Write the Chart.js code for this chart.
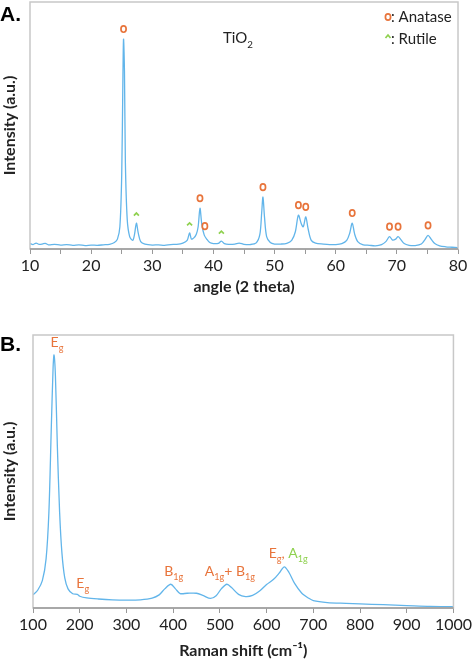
<!DOCTYPE html>
<html>
<head>
<meta charset="utf-8">
<script src="https://cdn.jsdelivr.net/npm/chart.js@4"></script>
<style>
  body { margin: 0; background: #fff; font-family: Lato, sans-serif; }
  .panel { position: absolute; left: 0; width: 474px; }
  .tag { position: absolute; left: 0; font: bold 21px Arial, sans-serif; z-index: 2; }
</style>
</head>
<body>
<div class="tag" style="top:2px">A.</div>
<div class="panel" style="top:0;height:300px"><canvas id="xrdCanvas"></canvas></div>
<div class="tag" style="top:332px">B.</div>
<div class="panel" style="top:330px;height:334px"><canvas id="ramanCanvas"></canvas></div>
<script>
// XRD pattern (angle 2 theta, intensity a.u.)
const xrdAngle = [10, 10.5, 11, 11.5, 12, 12.5, 13, 14, 15, 16, 17, 18, 19, 20, 21, 22, 23, 23.8, 24.3, 24.7, 25.0, 25.2, 25.3, 25.45, 25.6, 25.9, 26.3, 26.8, 27.1, 27.4, 27.7, 28.1, 28.8, 30, 31, 32, 33, 34, 35, 35.7, 36.1, 36.4, 36.8, 37.2, 37.5, 37.8, 38.1, 38.5, 38.9, 39.4, 40, 40.8, 41.3, 41.8, 42.5, 43.5, 44.2, 45, 46, 47, 47.6, 47.9, 48.1, 48.35, 48.7, 49.3, 50, 51, 52, 52.8, 53.4, 53.9, 54.4, 54.7, 55.1, 55.5, 56, 56.7, 58, 59, 60, 61, 61.8, 62.3, 62.7, 63.1, 63.6, 64.5, 65.5, 66.5, 67.5, 68.2, 68.8, 69.3, 69.8, 70.2, 70.6, 71.2, 72, 73, 74, 74.6, 75.1, 75.6, 76.2, 77, 78, 79, 80];
const xrdIntensity = [2.2, 1.8, 2.4, 1.9, 2.0, 2.3, 1.7, 1.9, 1.6, 1.8, 1.5, 1.7, 1.4, 1.6, 1.5, 1.7, 1.9, 2.6, 4, 9, 30, 70, 85, 72, 35, 12, 5, 3.5, 6, 10.5, 6.5, 3, 2, 1.6, 1.7, 1.5, 1.8, 1.9, 2.4, 3.5, 6.5, 4, 4.5, 6, 9, 16.5, 10, 5.6, 4, 2.6, 2.2, 2.3, 3.2, 2.2, 1.9, 2, 2.4, 1.9, 1.8, 2.5, 6, 15, 21, 13, 5, 2.6, 2, 2, 2.3, 3.5, 7, 13.7, 10, 9, 13, 8, 3.5, 2.4, 2, 1.8, 1.8, 2.2, 3.5, 6.5, 10.5, 6, 3, 1.7, 1.5, 1.3, 1.8, 3, 5, 3.6, 4, 5, 4, 2.2, 1.5, 1.4, 2, 3.8, 5.5, 4, 2.2, 1.3, 0.9, 0.7, 0.5];
const anatasePeaks = [25.3, 37.8, 38.6, 48.1, 53.9, 55.1, 62.7, 68.8, 70.2, 75.1];
const rutilePeaks = [27.4, 36.1, 41.3];

// Raman spectrum (shift cm-1, intensity a.u.)
const ramanShift = [100, 110, 120, 128, 134, 139, 143, 145, 148, 152, 157, 162, 168, 175, 185, 195, 200, 215, 240, 270, 300, 330, 355, 370, 382, 395, 405, 415, 430, 450, 465, 480, 492, 503, 515, 525, 540, 555, 570, 585, 600, 615, 628, 638, 648, 660, 675, 690, 700, 730, 770, 800, 850, 900, 950, 1000];
const ramanIntensity = [4.8, 6.5, 10, 18, 35, 65, 88, 92.7, 85, 60, 35, 20, 11, 7, 5.2, 5, 4.3, 3.7, 3.3, 3.0, 2.9, 3.0, 3.6, 4.8, 7, 8.7, 7, 5.3, 5.4, 5.4, 4.5, 3.5, 4.5, 7, 8.7, 7.5, 5, 4.2, 4.6, 6.2, 8.6, 10.5, 13, 15.1, 13, 9, 5.5, 3.6, 2.7, 2.0, 1.7, 1.5, 1.2, 0.9, 0.6, 0.5];

const ORANGE = '#e8743b';
const GREEN = '#8fd14f';
const LINE = '#62b5ea';
const FONT = 'Lato, sans-serif';

function toPoints(xs, ys) {
    return xs.map((x, i) => ({ x: x, y: ys[i] }));
}

function valueAt(xs, ys, x) {
    for (let i = 1; i < xs.length; i++) {
        if (xs[i] >= x) {
            const t = (x - xs[i - 1]) / (xs[i] - xs[i - 1]);
            return ys[i - 1] + t * (ys[i] - ys[i - 1]);
        }
    }
    return ys[ys.length - 1];
}

// parts: [text, isSub, color]
function drawParts(ctx, parts, x, y, size) {
    const widths = parts.map(p => {
        ctx.font = (p[1] ? size * 0.65 : size) + 'px ' + FONT;
        return ctx.measureText(p[0]).width;
    });
    let cx = x - widths.reduce((a, b) => a + b, 0) / 2;
    ctx.textBaseline = 'alphabetic';
    ctx.textAlign = 'left';
    parts.forEach((p, i) => {
        ctx.font = (p[1] ? size * 0.65 : size) + 'px ' + FONT;
        ctx.fillStyle = p[2];
        ctx.fillText(p[0], cx, p[1] ? y + size * 0.3 : y);
        cx += widths[i];
    });
}

function frame(ctx, area) {
    ctx.save();
    ctx.strokeStyle = '#c8c8c8';
    ctx.lineWidth = 1.5;
    ctx.strokeRect(area.left, area.top, area.right - area.left, area.bottom - area.top);
    ctx.strokeStyle = '#999';
    ctx.beginPath();
    ctx.moveTo(area.left, area.bottom);
    ctx.lineTo(area.right, area.bottom);
    ctx.stroke();
    ctx.restore();
}

const xrdMarks = {
    id: 'xrdMarks',
    afterDatasetsDraw(chart) {
        const { ctx, chartArea, scales } = chart;
        frame(ctx, chartArea);
        ctx.save();
        ctx.lineWidth = 1.7;
        anatasePeaks.forEach(a => {
            const px = scales.x.getPixelForValue(a);
            const py = scales.y.getPixelForValue(valueAt(xrdAngle, xrdIntensity, a)) - 10;
            ctx.strokeStyle = ORANGE;
            ctx.beginPath();
            ctx.ellipse(px, py, 2.6, 3.2, 0, 0, Math.PI * 2);
            ctx.stroke();
        });
        rutilePeaks.forEach(a => {
            const px = scales.x.getPixelForValue(a);
            const py = scales.y.getPixelForValue(valueAt(xrdAngle, xrdIntensity, a)) - 9;
            ctx.strokeStyle = GREEN;
            ctx.beginPath();
            ctx.moveTo(px - 2.5, py + 1.5);
            ctx.lineTo(px, py - 1);
            ctx.lineTo(px + 2.5, py + 1.5);
            ctx.stroke();
        });
        // legend
        const lx = chartArea.right - 70;
        ctx.strokeStyle = ORANGE;
        ctx.beginPath();
        ctx.ellipse(lx, chartArea.top + 15, 2.6, 3.2, 0, 0, Math.PI * 2);
        ctx.stroke();
        ctx.strokeStyle = GREEN;
        ctx.beginPath();
        ctx.moveTo(lx - 2.5, chartArea.top + 36);
        ctx.lineTo(lx, chartArea.top + 33);
        ctx.lineTo(lx + 2.5, chartArea.top + 36);
        ctx.stroke();
        ctx.fillStyle = '#222';
        ctx.font = '15px ' + FONT;
        ctx.textAlign = 'left';
        ctx.textBaseline = 'middle';
        ctx.fillText(': Anatase', lx + 3, chartArea.top + 15);
        ctx.fillText(': Rutile', lx + 3, chartArea.top + 37);
        drawParts(ctx, [['TiO', false, '#222'], ['2', true, '#222']], chartArea.left + 208, chartArea.top + 41, 15);
        ctx.restore();
    }
};

const ramanLabels = [
    { x: 145, dy: 8, parts: [['E', false, ORANGE], ['g', true, ORANGE]] },
    { x: 200, dy: 8, parts: [['E', false, ORANGE], ['g', true, ORANGE]] },
    { x: 395, dy: 8, parts: [['B', false, ORANGE], ['1g', true, ORANGE]] },
    { x: 515, dy: 8, parts: [['A', false, ORANGE], ['1g', true, ORANGE], ['+ B', false, ORANGE], ['1g', true, ORANGE]] },
    { x: 640, dy: 10, parts: [['E', false, ORANGE], ['g', true, ORANGE], [', ', false, ORANGE], ['A', false, GREEN], ['1g', true, GREEN]] }
];

const ramanMarks = {
    id: 'ramanMarks',
    afterDatasetsDraw(chart) {
        const { ctx, chartArea, scales } = chart;
        frame(ctx, chartArea);
        ctx.save();
        ramanLabels.forEach(l => {
            const px = scales.x.getPixelForValue(l.x);
            const py = scales.y.getPixelForValue(valueAt(ramanShift, ramanIntensity, l.x)) - l.dy;
            drawParts(ctx, l.parts, px + 3, py, 14);
        });
        ctx.restore();
    }
};

function makeChart(canvas, data, xMin, xMax, step, labelStep, xTitle, yWidth, xHeight, pad, plugin) {
    return new Chart(canvas.getContext('2d'), {
        type: 'line',
        data: {
            datasets: [{
                data: data,
                borderColor: LINE,
                borderWidth: 1.3,
                pointRadius: 0,
                tension: 0.3,
                fill: false
            }]
        },
        options: {
            responsive: true,
            maintainAspectRatio: false,
            animation: false,
            layout: { padding: pad },
            plugins: { legend: { display: false }, tooltip: { enabled: false } },
            scales: {
                x: {
                    type: 'linear',
                    min: xMin,
                    max: xMax,
                    afterFit: s => { s.height = xHeight; },
                    ticks: {
                        stepSize: step,
                        maxRotation: 0,
                        autoSkip: false,
                        padding: 2,
                        color: '#222',
                        font: { family: FONT, size: 16 },
                        callback: v => (v % labelStep === 0 ? v : '')
                    },
                    grid: { drawOnChartArea: false, tickLength: 5, color: '#999' },
                    border: { display: false },
                    title: { display: true, text: xTitle, color: '#222', font: { family: FONT, size: 16, weight: 'bold' }, padding: { top: 0 } }
                },
                y: {
                    min: 0,
                    max: 100,
                    afterFit: s => { s.width = yWidth; },
                    ticks: { display: false },
                    grid: { display: false },
                    border: { display: false },
                    title: { display: true, text: 'Intensity (a.u.)', color: '#222', font: { family: FONT, size: 16, weight: 'bold' }, padding: 0 }
                }
            }
        },
        plugins: [plugin]
    });
}

makeChart(document.getElementById('xrdCanvas'), toPoints(xrdAngle, xrdIntensity),
    10, 80, 5, 10, 'angle (2 theta)', 30, 51, { top: 2, right: 16 }, xrdMarks);
makeChart(document.getElementById('ramanCanvas'), toPoints(ramanShift, ramanIntensity),
    100, 1000, 100, 100, 'Raman shift (cm\u207B\u00B9)', 33, 56, { top: 5, right: 17 }, ramanMarks);
</script>
</body>
</html>
